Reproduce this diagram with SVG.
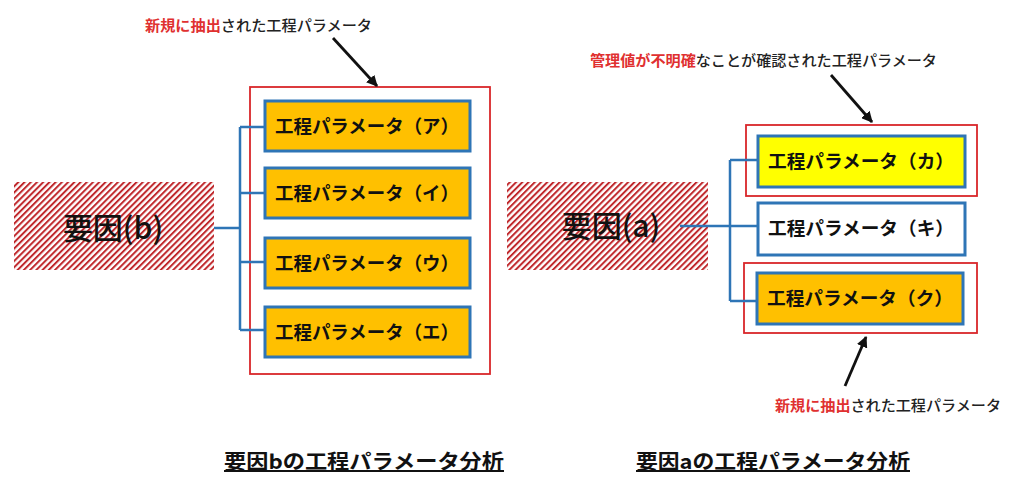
<svg xmlns="http://www.w3.org/2000/svg" width="1024" height="494" viewBox="0 0 1024 494">
<defs>
<pattern id="hatch" width="4.4" height="4.4" patternUnits="userSpaceOnUse" patternTransform="rotate(45)">
<rect x="0" y="0" width="4.4" height="4.4" fill="#fff"/>
<rect x="0" y="0" width="2" height="4.4" fill="#c0282c"/>
</pattern>
<marker id="ah" viewBox="0 0 10 10" refX="9" refY="5" markerWidth="4" markerHeight="4" orient="auto" markerUnits="strokeWidth">
<path d="M0,0 L10,5 L0,10 z" fill="#111"/>
</marker>
<style>
.cjk{font-family:"Noto Sans CJK JP","Noto Sans",sans-serif}
.box{stroke:#2e75b6;stroke-width:3}
.org{fill:#ffc000}
.frame{fill:none;stroke:#d9262a;stroke-width:1.8}
.lbl{font-size:18.5px;font-weight:bold;fill:#111}
.conn{fill:none;stroke:#2e75b6;stroke-width:2.5}
.arr{stroke:#111;stroke-width:2.8;marker-end:url(#ah)}
.note{font-size:14.5px;fill:#222;font-weight:500}
.red{fill:#e03030;font-weight:bold}
.big{font-size:30px;fill:#111;font-weight:500}
.title{font-size:20px;font-weight:bold;fill:#111;text-decoration:underline}
</style>
</defs>
<rect width="1024" height="494" fill="#fff"/>

<g id="factor-b">
<rect x="14" y="182" width="200" height="88" fill="url(#hatch)"/>
<text class="cjk big" x="113" y="239" text-anchor="middle">要因(b)</text>
</g>

<g id="frame-left"><rect class="frame" x="250" y="87" width="240" height="287"/></g>

<g id="param-a">
<rect class="box org" x="265" y="101" width="205" height="50"/>
<text class="cjk lbl" x="275" y="133" textLength="184" lengthAdjust="spacingAndGlyphs">工程パラメータ（ア）</text>
</g>
<g id="param-i">
<rect class="box org" x="265" y="168" width="205" height="50"/>
<text class="cjk lbl" x="275" y="200" textLength="184" lengthAdjust="spacingAndGlyphs">工程パラメータ（イ）</text>
</g>
<g id="param-u">
<rect class="box org" x="265" y="238" width="205" height="50"/>
<text class="cjk lbl" x="275" y="270" textLength="184" lengthAdjust="spacingAndGlyphs">工程パラメータ（ウ）</text>
</g>
<g id="param-e">
<rect class="box org" x="265" y="307" width="205" height="50"/>
<text class="cjk lbl" x="275" y="339" textLength="184" lengthAdjust="spacingAndGlyphs">工程パラメータ（エ）</text>
</g>

<g id="note-left">
<text class="cjk note" x="145" y="31" textLength="227" lengthAdjust="spacingAndGlyphs"><tspan class="red">新規に抽出</tspan>された工程パラメータ</text>
</g>

<g id="factor-a">
<rect x="507" y="182" width="201" height="88" fill="url(#hatch)"/>
<text class="cjk big" x="611" y="237" text-anchor="middle">要因(a)</text>
</g>

<g id="frame-right-top"><rect class="frame" x="746" y="125" width="231" height="71"/></g>
<g id="frame-right-bottom"><rect class="frame" x="744" y="263" width="233" height="70"/></g>

<g id="param-ka">
<rect class="box" x="758" y="136" width="207" height="51" fill="#ffff00"/>
<text class="cjk lbl" x="768" y="168" textLength="186" lengthAdjust="spacingAndGlyphs">工程パラメータ（カ）</text>
</g>
<g id="param-ki">
<rect class="box" x="758" y="203" width="207" height="52" fill="#fff"/>
<text class="cjk lbl" x="768" y="235" textLength="186" lengthAdjust="spacingAndGlyphs">工程パラメータ（キ）</text>
</g>
<g id="param-ku">
<rect class="box org" x="757" y="273" width="206" height="51"/>
<text class="cjk lbl" x="767" y="305" textLength="186" lengthAdjust="spacingAndGlyphs">工程パラメータ（ク）</text>
</g>

<g id="note-right-top">
<text class="cjk note" x="590" y="66" textLength="347" lengthAdjust="spacingAndGlyphs"><tspan class="red">管理値が不明確</tspan>なことが確認された工程パラメータ</text>
</g>
<g id="note-right-bottom">
<text class="cjk note" x="775" y="411" textLength="226" lengthAdjust="spacingAndGlyphs"><tspan class="red">新規に抽出</tspan>された工程パラメータ</text>
</g>

<g id="title-b">
<text class="cjk title" x="224" y="469" textLength="280" lengthAdjust="spacingAndGlyphs">要因bの工程パラメータ分析</text>
</g>
<g id="title-a">
<text class="cjk title" x="636" y="469" textLength="274" lengthAdjust="spacingAndGlyphs">要因aの工程パラメータ分析</text>
</g>

<g id="connectors">
<path class="conn" d="M214,228 H240 M240,127 V330 M240,127 H265 M240,193 H265 M240,262 H265 M240,330 H265"/>
<path class="conn" d="M680,226 H758 M730,160 V301 M730,160 H758 M730,301 H757"/>
<line class="arr" x1="333" y1="38" x2="377" y2="86"/>
<line class="arr" x1="831" y1="75" x2="872" y2="122"/>
<line class="arr" x1="845" y1="386" x2="866" y2="337"/>
</g>
</svg>
